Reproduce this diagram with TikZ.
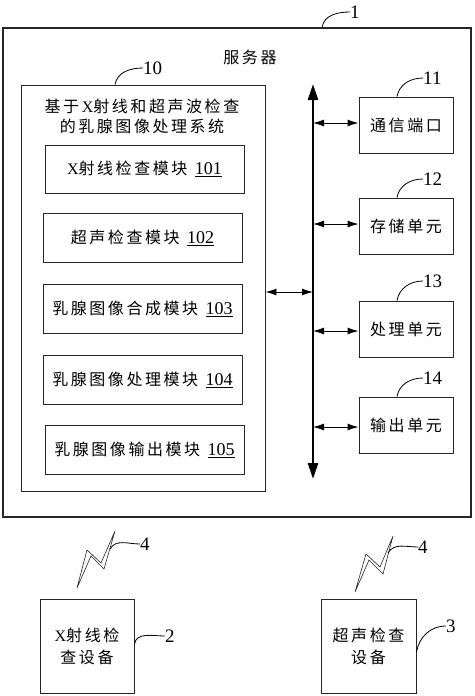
\documentclass[tikz,border=0pt]{standalone}
\usepackage{fontspec}
\setmainfont{Liberation Serif}
\newfontfamily\cjk[LetterSpace=16]{Noto Sans CJK SC}
\usetikzlibrary{arrows.meta}
\tikzset{
  box/.style={draw=black!85, line width=0.9pt, rectangle, inner sep=0pt, font=\cjk\fontsize{16}{22}\selectfont, align=center},
  outerbox/.style={draw=black!85, line width=1.4pt, rectangle, inner sep=0pt},
  busline/.style={line width=2.6pt, {Triangle[width=10pt,length=16pt]}-{Triangle[width=10pt,length=16pt]}},
  biarr/.style={line width=0.9pt, {Latex[width=7pt,length=11pt]}-{Latex[width=7pt,length=11pt]}},
  lead/.style={line width=0.8pt},
  numlbl/.style={font=\fontsize{19}{20}\selectfont, inner sep=0pt},
  plain/.style={font=\cjk\fontsize{16}{22}\selectfont, align=center, inner sep=0pt},
  bolt/.style={line width=0.6pt, draw=black!85}
}
\newcommand{\numu}[1]{\hspace{5pt}\textrm{\fontsize{18}{20}\selectfont\underline{#1}}}
\begin{document}
\begin{tikzpicture}[x=1pt,y=-1pt]
\useasboundingbox (0,0) rectangle (474,696);
% server
\node[outerbox, minimum width=468pt, minimum height=489pt] (server) at (237,272.5) {};
\node[plain] (stitle) at (250,57) {服务器};
% system box
\node[box, minimum width=244pt, minimum height=406pt] (sys) at (143,288) {};
\node[plain, font=\cjk\fontsize{16}{20}\selectfont] (systitle) at (142,116) {基于\textrm{X}射线和超声波检查\\的乳腺图像处理系统};
\node[box, minimum width=199pt, minimum height=48pt] (m1) at (144.5,169) {\textrm{X}射线检查模块\numu{101}};
\node[box, minimum width=199pt, minimum height=49pt] (m2) at (142.5,237.5) {超声检查模块\numu{102}};
\node[box, minimum width=199pt, minimum height=49pt] (m3) at (142.5,308.5) {乳腺图像合成模块\numu{103}};
\node[box, minimum width=199pt, minimum height=49pt] (m4) at (142.5,379.5) {乳腺图像处理模块\numu{104}};
\node[box, minimum width=199pt, minimum height=49pt] (m5) at (144.5,449.5) {乳腺图像输出模块\numu{105}};
% units
\node[box, minimum width=94pt, minimum height=56pt] (u1) at (406,125) {通信端口};
\node[box, minimum width=94pt, minimum height=56pt] (u2) at (406,226) {存储单元};
\node[box, minimum width=94pt, minimum height=56pt] (u3) at (406,329) {处理单元};
\node[box, minimum width=94pt, minimum height=56pt] (u4) at (406,425) {输出单元};
% bus
\coordinate (bt) at (313,84);
\coordinate (bb) at (313,479);
\draw[busline] (bt) -- (bb);
\draw[biarr] ([yshift=-4pt]sys.east) -- ([yshift=-4pt]sys.east -| bt);
\draw[biarr] ([yshift=2pt]u1.west -| bt) -- ([yshift=2pt]u1.west);
\draw[biarr] ([yshift=2pt]u2.west -| bt) -- ([yshift=2pt]u2.west);
\draw[biarr] ([yshift=-2pt]u3.west -| bt) -- ([yshift=-2pt]u3.west);
\draw[biarr] ([yshift=-2pt]u4.west -| bt) -- ([yshift=-2pt]u4.west);
% devices
\node[box, minimum width=94pt, minimum height=94pt] (d2) at (87,646) {\textrm{X}射线检\\查设备};
\node[box, minimum width=95pt, minimum height=94pt] (d3) at (368.5,646) {超声检查\\设备};
% reference labels
\node[numlbl, anchor=west] (l1) at (350,12) {1};
\draw[lead] ([xshift=85pt]server.north) to[out=80,in=180] (l1.west);
\node[numlbl, anchor=west] (l10) at (143,68) {10};
\draw[lead] ([xshift=-28pt]sys.north) to[out=80,in=180] (l10.west);
\node[numlbl, anchor=west] (l11) at (423,78) {11};
\draw[lead] ([xshift=-9pt]u1.north) to[out=80,in=180] (l11.west);
\node[numlbl, anchor=west] (l12) at (423,179) {12};
\draw[lead] ([xshift=-9pt]u2.north) to[out=80,in=180] (l12.west);
\node[numlbl, anchor=west] (l13) at (423,281) {13};
\draw[lead] ([xshift=-9pt]u3.north) to[out=80,in=180] (l13.west);
\node[numlbl, anchor=west] (l14) at (423,378) {14};
\draw[lead] ([xshift=-9pt]u4.north) to[out=80,in=180] (l14.west);
\node[numlbl, anchor=west] (l2) at (165,636) {2};
\draw[lead] ([yshift=2pt]d2.east) to[out=80,in=180] (l2.west);
\node[numlbl, anchor=west] (l3) at (446,626) {3};
\draw[lead] ([yshift=-6pt]d3.east) to[out=80,in=180] (l3.west);
% lightning bolts
\draw[bolt] (77,588) -- (87,550) -- (101,563) -- (115,531) -- (104,569) -- (91,556) -- cycle;
\coordinate (z1) at (110,549);
\node[numlbl, anchor=west] (l4a) at (140,544) {4};
\draw[lead] (z1) to[out=60,in=180] (l4a.west);
\draw[bolt] (355,592) -- (366,554) -- (380,567) -- (393,536) -- (383,574) -- (369,560) -- cycle;
\coordinate (z2) at (388,553);
\node[numlbl, anchor=west] (l4b) at (418,547) {4};
\draw[lead] (z2) to[out=60,in=180] (l4b.west);
\end{tikzpicture}
\end{document}
